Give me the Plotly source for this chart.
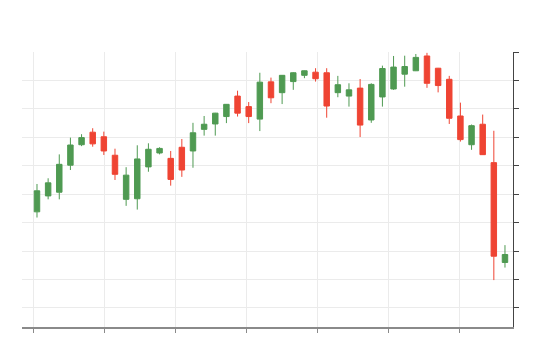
import plotly.graph_objects as go

# Candle index (trading periods)
periods = list(range(43))

open_ = [43.8, 49.4, 50.7, 60.2, 67.4, 71.8, 70.2, 63.7, 48.2, 48.4,
         59.6, 64.5, 62.6, 66.5, 65.2, 72.8, 74.7, 77.3, 84.5, 80.8,
         76.4, 89.5, 85.7, 89.6, 91.8, 92.9, 92.7, 85.7, 84.5, 87.3,
         76.1, 84.2, 87.0, 92.2, 93.4, 98.6, 94.3, 90.4, 77.5, 67.4,
         74.6, 61.1, 26.0]
high = [53.6, 55.6, 64.0, 69.9, 71.1, 73.2, 72.0, 66.0, 59.5, 67.2,
        67.9, 66.5, 65.2, 69.4, 75.1, 77.5, 78.6, 81.7, 86.4, 82.4,
        92.7, 91.0, 91.9, 92.9, 93.5, 94.3, 94.3, 91.6, 89.0, 90.5,
        89.0, 95.2, 98.6, 98.7, 99.3, 99.7, 94.4, 91.6, 82.2, 74.5,
        78.0, 72.3, 32.1]
low = [41.8, 48.2, 48.2, 58.5, 66.9, 66.7, 63.8, 55.0, 45.9, 44.6,
       57.9, 64.0, 53.0, 56.1, 59.3, 70.6, 70.6, 75.0, 77.3, 75.0,
       72.2, 82.0, 81.7, 86.7, 90.8, 89.6, 76.9, 84.1, 80.8, 70.1,
       75.1, 80.8, 86.7, 87.8, 93.3, 87.4, 85.8, 74.7, 68.5, 65.6,
       63.8, 19.8, 24.2]
close = [51.2, 54.0, 60.5, 67.3, 69.9, 67.7, 65.2, 57.0, 56.7, 62.4,
         65.8, 66.1, 55.2, 58.5, 71.6, 74.6, 78.5, 81.6, 78.5, 77.3,
         89.4, 83.9, 91.8, 92.7, 93.4, 90.6, 81.0, 88.5, 86.7, 74.3,
         88.6, 94.2, 94.7, 94.9, 98.1, 89.0, 88.2, 76.7, 69.2, 74.1,
         63.9, 28.2, 28.8]

y_ticks = [10, 20, 30, 40, 50, 60, 70, 80, 90, 100]
x_ticks = [-0.33, 6.04, 12.41, 18.78, 25.15, 31.52, 37.89]

fig = go.Figure(go.Candlestick(
    x=periods, open=open_, high=high, low=low, close=close,
    increasing=dict(line=dict(color="#4f9a52", width=1), fillcolor="#4f9a52"),
    decreasing=dict(line=dict(color="#ef4433", width=1), fillcolor="#ef4433"),
    whiskerwidth=0,
    showlegend=False,
))

fig.update_layout(
    width=540, height=360,
    margin=dict(l=22, r=27, t=52, b=33),
    paper_bgcolor="white", plot_bgcolor="white",
    xaxis=dict(
        range=[-1.345, 42.72], tickvals=x_ticks, showticklabels=False,
        showgrid=True, gridcolor="#ebebeb", gridwidth=1,
        showline=True, linecolor="#8a8a8a", linewidth=2,
        ticks="outside", ticklen=4, tickcolor="#8a8a8a", tickwidth=1,
        zeroline=False, rangeslider=dict(visible=False),
    ),
    yaxis=dict(
        side="right", range=[3.31, 100], tickvals=y_ticks, showticklabels=False,
        showgrid=True, gridcolor="#ebebeb", gridwidth=1,
        showline=True, linecolor="#444444", linewidth=1,
        ticks="outside", ticklen=5, tickcolor="#444444", tickwidth=1,
        zeroline=False,
    ),
)

fig.write_html("out.html")
